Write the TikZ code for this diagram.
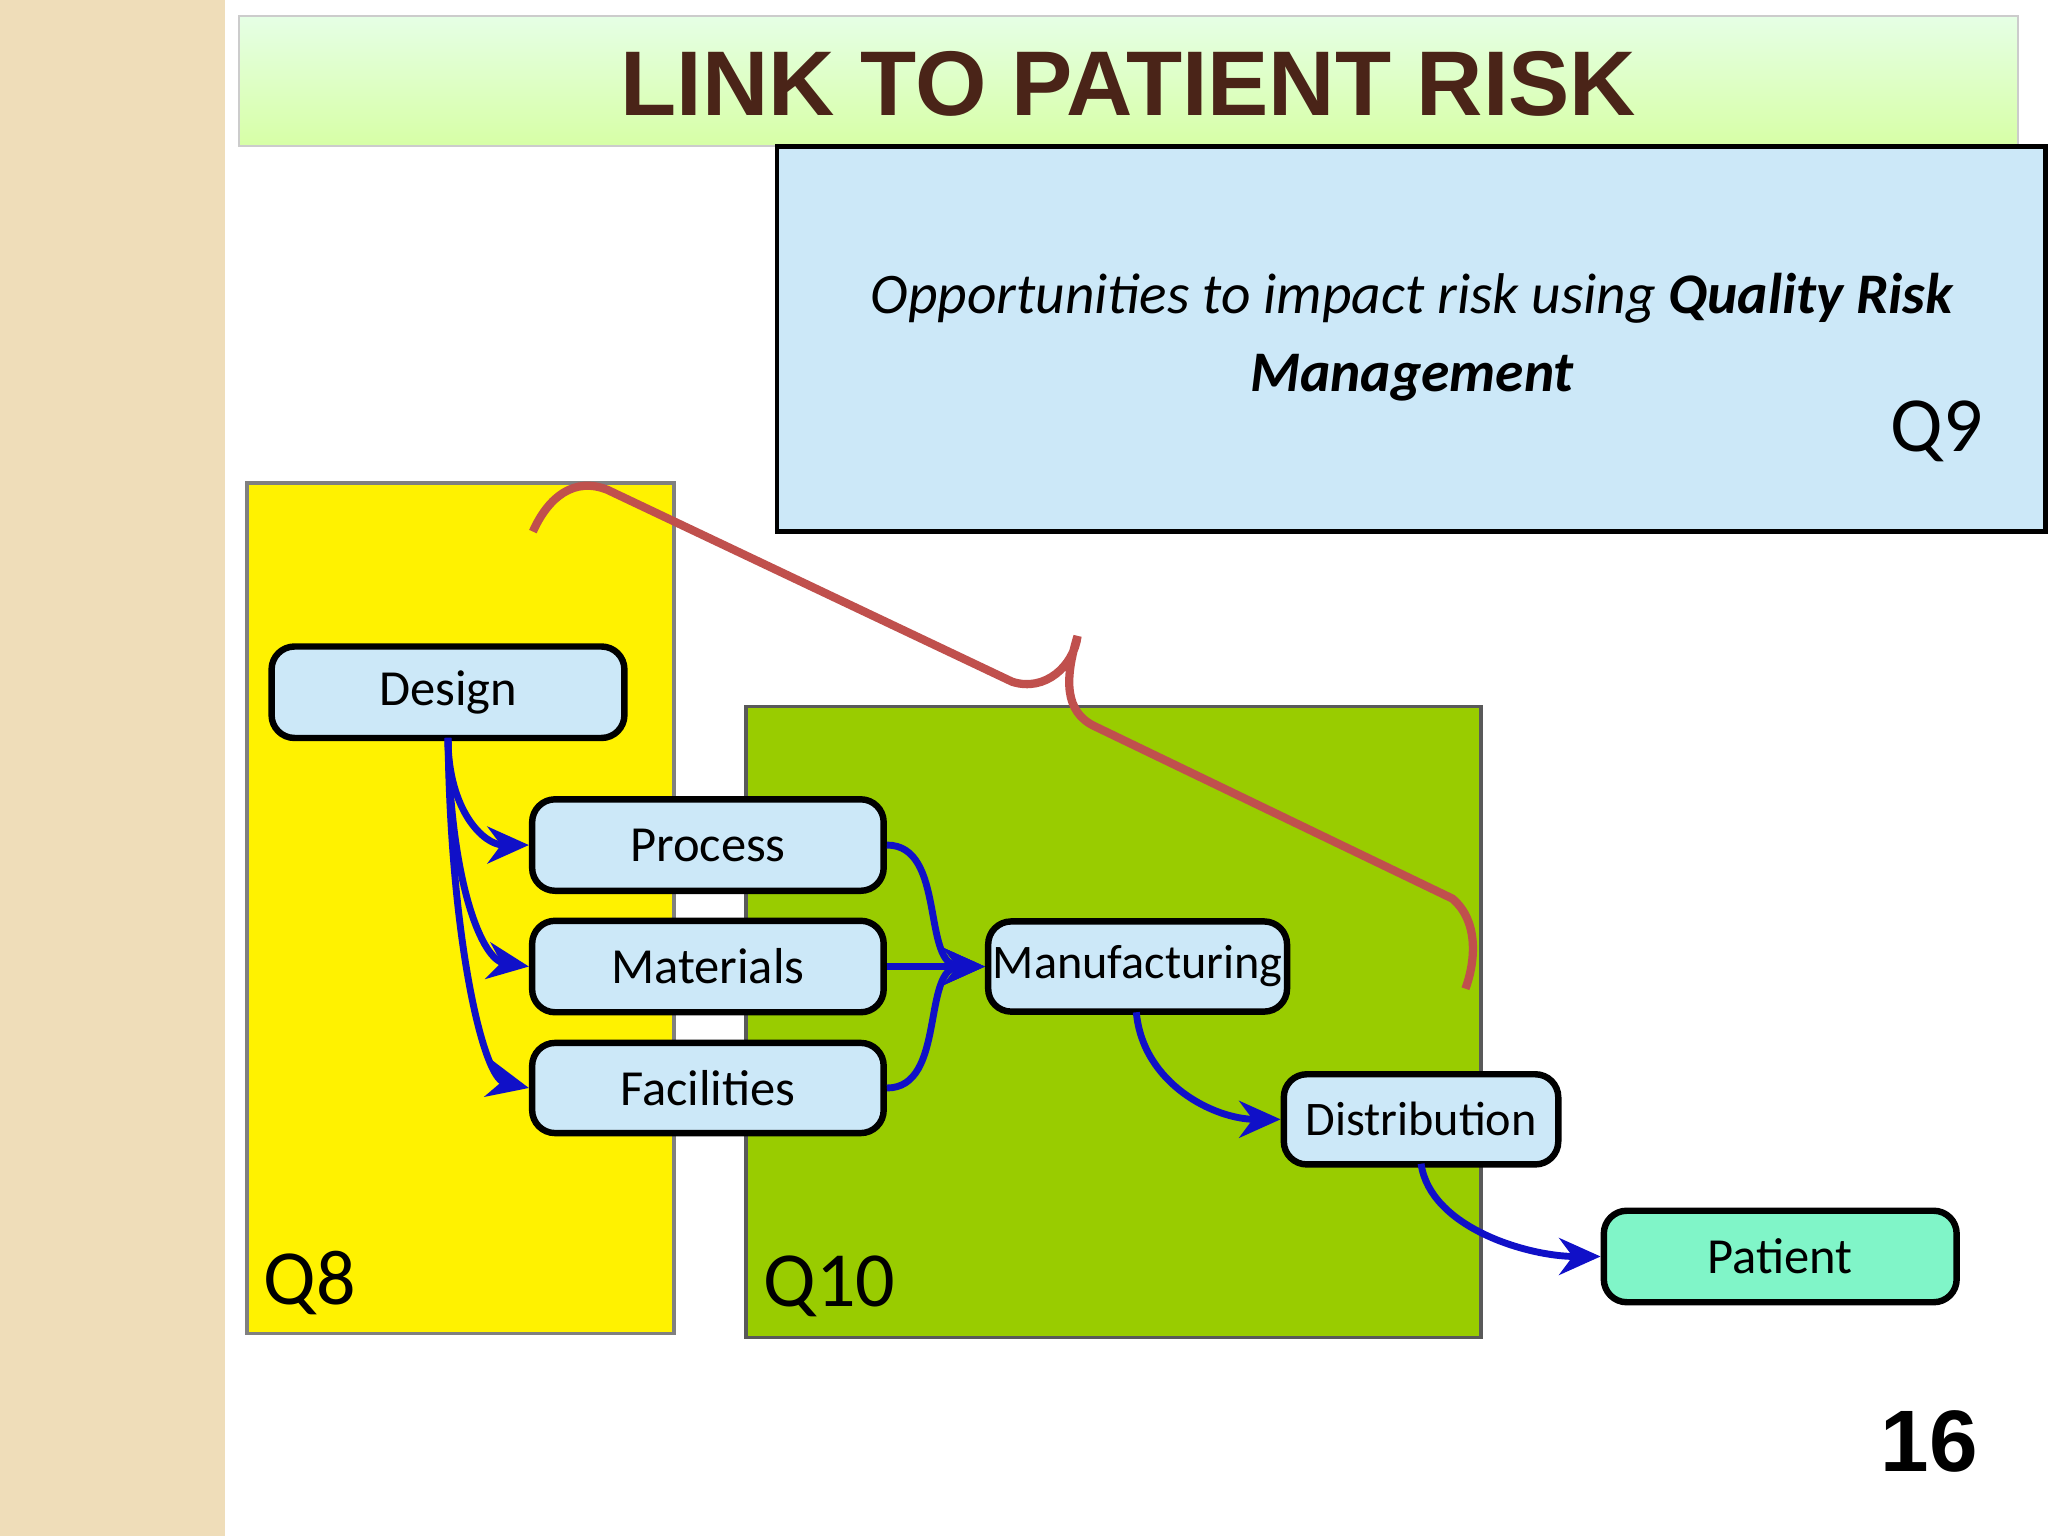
\documentclass[tikz,border=0pt]{standalone}
\usepackage{fontspec}
\usetikzlibrary{arrows.meta}
\setmainfont{Carlito}
\newfontfamily\titlefont{Liberation Sans}
\definecolor{beige}{HTML}{EFDDB9}
\definecolor{lblue}{HTML}{CCE8F8}
\definecolor{q10g}{HTML}{99CC00}
\definecolor{arr}{HTML}{1010C8}
\definecolor{brace}{HTML}{C0504D}
\definecolor{titlebrown}{HTML}{4A2418}
\definecolor{pat}{HTML}{80F5C8}
\begin{document}
\begin{tikzpicture}[x=0.01cm,y=-0.01cm,
  box/.style={draw=black,line width=1.4pt,rounded corners=5pt,fill=lblue,font=\fontsize{11}{13}\selectfont},
  flow/.style={draw=arr,line width=1.5pt,-{Stealth[length=9pt,width=8pt]}}]
\useasboundingbox (0,0) rectangle (1568,1176);
\fill[white] (0,0) rectangle (1568,1176);
\fill[beige] (0,0) rectangle (172,1176);
\shade[top color=green!10!white,bottom color=green!45!yellow!35!white,draw=gray!40] (183,12) rectangle (1545,112);
\node[font=\titlefont\bfseries\fontsize{20}{24}\selectfont,text=titlebrown] (title) at (864,64) {LINK TO PATIENT RISK};
\draw[fill=lblue,draw=black,line width=1pt] (595,112) rectangle (1566,407);
\node[align=center,font=\itshape\fontsize{12.5}{17}\selectfont] (opp) at (1081,258) {Opportunities to impact risk using \textbf{Quality Risk}\\\textbf{Management}};
\node[font=\fontsize{17}{20}\selectfont] (q9) at (1483,330) {Q9};
\draw[fill=yellow,draw=gray,line width=0.8pt] (189,370) rectangle (516,1021);
\draw[fill=q10g,draw=gray!70!black,line width=0.8pt] (571,541) rectangle (1134,1024);
\node[font=\fontsize{17}{20}\selectfont] (q8) at (237,982) {Q8};
\node[font=\fontsize{17}{20}\selectfont] (q10) at (635,985) {Q10};
\node[box,minimum width=2.7cm,minimum height=0.7cm] (design) at (343,530) {Design};
\node[box,minimum width=2.69cm,minimum height=0.7cm] (process) at (542,647) {Process};
\node[box,minimum width=2.69cm,minimum height=0.7cm] (materials) at (542,740) {Materials};
\node[box,minimum width=2.69cm,minimum height=0.69cm] (facilities) at (542,833) {Facilities};
\node[box,minimum width=2.22cm,minimum height=0.69cm,inner sep=1pt,font=\fontsize{10.5}{13}\selectfont] (manuf) at (871,740) {Manufacturing};
\node[box,minimum width=2.1cm,minimum height=0.69cm,font=\fontsize{10.5}{13}\selectfont] (distr) at (1088,857) {Distribution};
\node[box,fill=pat,minimum width=2.7cm,minimum height=0.7cm] (patient) at (1363,962) {Patient};
\draw[flow] (343,565) .. controls (343,620) and (370,647) .. (process.west);
\draw[flow] (343,565) .. controls (345,680) and (370,735) .. (materials.west);
\draw[flow] (343,565) .. controls (345,720) and (370,825) .. (facilities.west);
\draw[flow] (process.east) .. controls (725,647) and (705,740) .. (manuf.west);
\draw[flow] (materials.east) -- (manuf.west);
\draw[flow] (facilities.east) .. controls (725,833) and (705,740) .. (manuf.west);
\draw[flow] (870,775) .. controls (875,830) and (930,857) .. (distr.west);
\draw[flow] (1088,891) .. controls (1095,940) and (1170,962) .. (patient.west);
\draw[brace,line width=1.8pt] (408,407) .. controls (420,380) and (440,365) .. (465,375) -- (775,522) .. controls (800,530) and (822,510) .. (825,487) .. controls (815,520) and (815,545) .. (838,556) -- (1112,688) .. controls (1132,705) and (1130,735) .. (1122,757);
\node[font=\titlefont\bfseries\fontsize{19}{22}\selectfont] (num) at (1477,1104) {16};
\end{tikzpicture}
\end{document}
